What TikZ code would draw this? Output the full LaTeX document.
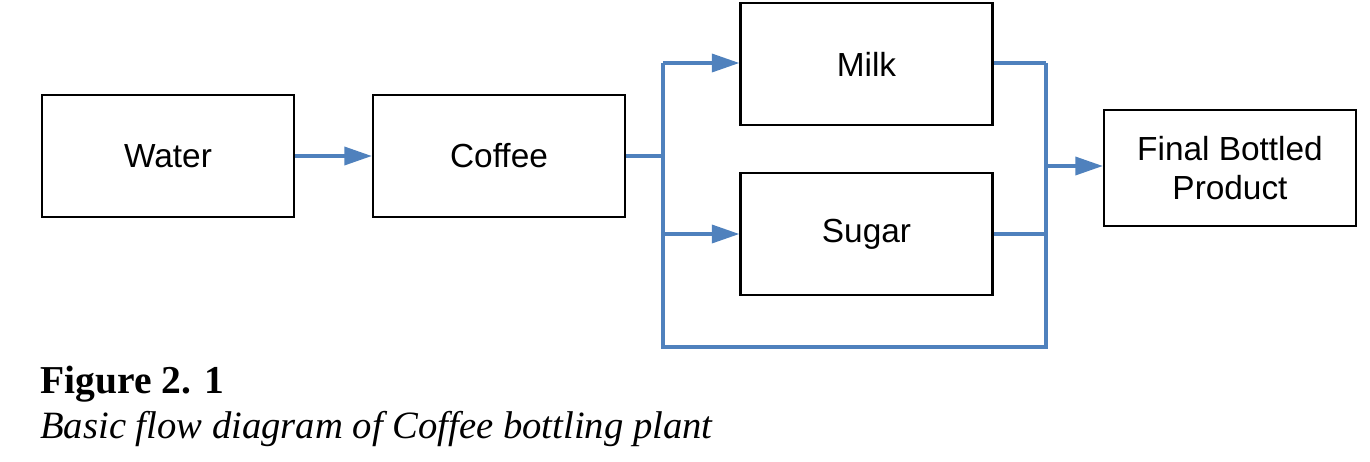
\documentclass[tikz,border=0pt]{standalone}
\usepackage{fontspec}
\setmainfont{Liberation Serif}
\newfontfamily\boxfont{Liberation Sans}
\usetikzlibrary{arrows.meta}
\definecolor{lnblue}{RGB}{79,129,189}
\begin{document}
\begin{tikzpicture}[x=0.02cm,y=-0.02cm,
  box/.style={draw=black,line width=1.3pt,minimum width=5.04cm,minimum height=2.44cm,inner sep=0pt,font=\boxfont\fontsize{19}{22}\selectfont,align=center},
  ln/.style={draw=lnblue,line width=2pt},
  arr/.style={ln,-{Triangle[length=0.55cm,width=0.36cm]}}]
\useasboundingbox (0,0) rectangle (1370,461);
\node[box] (water) at (168,156) {Water};
\node[box] (coffee) at (499,156) {Coffee};
\node[box] (milk) at (866.5,64) {Milk};
\node[box] (sugar) at (866.5,234) {Sugar};
\node[box,minimum height=2.32cm] (final) at (1230,168) {Final Bottled\\Product};
\coordinate (j1) at (663,156);
\coordinate (jt) at (663,63);
\coordinate (js) at (663,234);
\coordinate (jb) at (663,347);
\coordinate (kt) at (1046,63);
\coordinate (ks) at (1046,234);
\coordinate (kb) at (1046,347);
\coordinate (kf) at (1046,166);
\draw[arr] (water.east) -- (coffee.west);
\draw[ln] (coffee.east) -- (j1);
\draw[ln] (jt) -- (jb) -- (kb) -- (kt);
\draw[arr] (jt) -- (milk.west |- jt);
\draw[arr] (js) -- (sugar.west |- js);
\draw[ln] (milk.east |- kt) -- (kt);
\draw[ln] (sugar.east |- ks) -- (ks);
\draw[arr] (kf) -- (final.west |- kf);
\node[anchor=base west,inner sep=0pt,font=\bfseries\fontsize{22.5}{26}\selectfont] (fig) at (40,393) {Figure 2. 1};
\node[anchor=base west,inner sep=0pt,font=\itshape\fontsize{22}{26}\selectfont] (cap) at (40,438) {Basic flow diagram of Coffee bottling plant};
\end{tikzpicture}
\end{document}
